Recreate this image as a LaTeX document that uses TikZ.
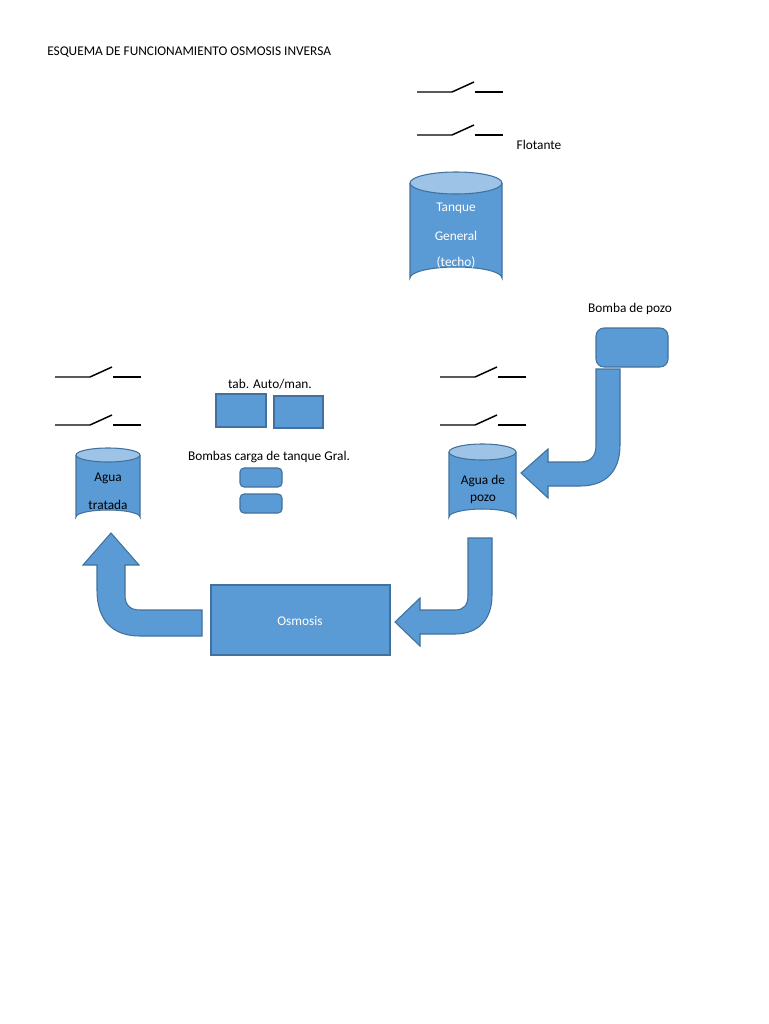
\documentclass[tikz,border=0pt]{standalone}
\usepackage{fontspec}
\setmainfont{Carlito}
\begin{document}
\begin{tikzpicture}[x=0.75pt,y=-0.75pt,
  blu/.style={fill=b1,draw=bo,line width=0.8pt},
  sw/.style={line width=1.1pt,black},
  lab/.style={font=\fontsize{10}{12}\selectfont,inner sep=0pt},
  wlab/.style={lab,text=white}]
\definecolor{b1}{HTML}{5B9BD5}\definecolor{b2}{HTML}{9DC3E6}\definecolor{bo}{HTML}{41719C}
\useasboundingbox (0,0) rectangle (768,1024);
\node[lab,anchor=west] (title) at (47,52) {ESQUEMA DE FUNCIONAMIENTO OSMOSIS INVERSA};
% switches
\foreach \n/\x/\y/\w in {s1/417/92/86,s2/417/135/86,s3/55/377/86,s4/55/425/86,s5/440/377/86,s6/440/425/86}{
  \draw[sw] (\x,\y) -- ++(35,0) -- ++(22,-10);
  \draw[sw] (\x+58,\y) -- (\x+\w,\y);
}
\node[lab] (flot) at (539,145) {Flotante};
\node[lab] (bpl) at (630,309) {Bomba de pozo};
\node[lab] (tab) at (270,384) {tab. Auto/man.};
\node[lab] (bcl) at (269,457) {Bombas carga de tanque Gral.};
% cylinders
\newcommand{\cyl}[5]{% x1 x2 ytop ybot ry
  \draw[blu] (#1,#3) -- (#1,#4) arc[start angle=180,end angle=360,x radius={(#2-#1)/2},y radius=#5] -- (#2,#3);
  \draw[fill=b2,draw=bo,line width=0.8pt] ({(#1+#2)/2},#3) ellipse[x radius={(#2-#1)/2},y radius=#5];}
\cyl{410}{502}{183}{278}{11}
\cyl{76}{140}{455}{517}{7}
\cyl{449}{516}{452}{517}{8}
\node[wlab] (tg1) at (456,208) {Tanque};
\node[wlab] (tg2) at (456,236) {General};
\node[wlab] (tg3) at (456,263) {(techo)};
\node[lab] (at1) at (108,478) {Agua};
\node[lab] (at2) at (108,505) {tratada};
\node[lab] (ap1) at (483,481) {Agua de};
\node[lab] (ap2) at (483,499) {pozo};
% boxes
\draw[blu] (211,585) rectangle (390,655);
\node[wlab] (osm) at (300,621) {Osmosis};
\draw[blu] (216,394) rectangle (266,427);
\draw[blu] (274,396) rectangle (323,428);
\draw[blu,rounded corners=3pt] (240,468) rectangle (282,487);
\draw[blu,rounded corners=3pt] (240,494) rectangle (282,513);
\draw[blu,rounded corners=6pt] (596,328) rectangle (668,367);
% bent arrows
\draw[blu] (620,369) -- (620,445) .. controls (620,472) and (605,486) .. (580,486) -- (548,486) -- (548,498) -- (521,473) -- (548,449) -- (548,462) -- (580,462) .. controls (592,462) and (596,455) .. (596,445) -- (596,369) -- cycle;
\draw[blu] (492,538) -- (492,595) .. controls (492,620) and (478,634) .. (455,634) -- (420,634) -- (420,646) -- (395,622) -- (420,598) -- (420,610) -- (455,610) .. controls (464,610) and (468,605) .. (468,595) -- (468,538) -- cycle;
\draw[blu] (202,610) -- (140,610) .. controls (130,610) and (125,605) .. (125,595) -- (125,565) -- (139,565) -- (111,533) -- (83,565) -- (97,565) -- (97,590) .. controls (97,620) and (112,636) .. (140,636) -- (202,636) -- cycle;
\end{tikzpicture}
\end{document}
